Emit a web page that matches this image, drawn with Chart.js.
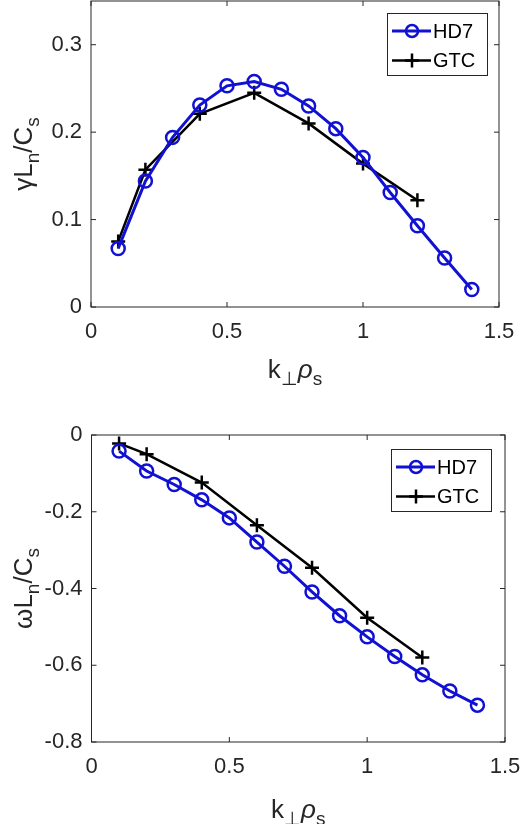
<!DOCTYPE html>
<html>
<head>
<meta charset="utf-8">
<script src="https://cdn.jsdelivr.net/npm/chart.js@4.4.0/dist/chart.umd.min.js"></script>
<style>
html,body{margin:0;padding:0;background:#fff;overflow:hidden;}
.box{position:absolute;left:0;width:520px;}
</style>
</head>
<body>
<div class="box" style="top:-20px;height:430px;"><canvas id="c1"></canvas></div>
<div class="box" style="top:410px;height:414px;"><canvas id="c2"></canvas></div>
<script>
// ---- data ----
const kHD7 = [0.1, 0.2, 0.3, 0.4, 0.5, 0.6, 0.7, 0.8, 0.9, 1.0, 1.1, 1.2, 1.3, 1.4];
const gammaHD7 = [0.067, 0.144, 0.194, 0.231, 0.253, 0.258, 0.249, 0.230, 0.204, 0.171, 0.131, 0.093, 0.056, 0.020];
const omegaHD7 = [-0.042, -0.094, -0.129, -0.169, -0.216, -0.279, -0.342, -0.409, -0.471, -0.526, -0.577, -0.625, -0.667, -0.704];
const kGTC = [0.1, 0.2, 0.4, 0.6, 0.8, 1.0, 1.2];
const gammaGTC = [0.075, 0.157, 0.221, 0.245, 0.210, 0.164, 0.122];
const omegaGTC = [-0.022, -0.050, -0.124, -0.235, -0.346, -0.476, -0.580];
const seriesLabels = ['HD7', 'GTC'];
const xTicks = [0, 0.5, 1, 1.5];
const gammaTicks = [0, 0.1, 0.2, 0.3];
const omegaTicks = [-0.8, -0.6, -0.4, -0.2, 0];

const FONT = '"Liberation Sans", Arial, Helvetica, sans-serif';
const AXC = '#262626';
const BLUE = '#1111d4';

function pts(xs, ys){ return xs.map((x,i)=>({x:x, y:ys[i]})); }
function fmt(v){ return String(Math.round(v*1000)/1000); }

function drawRich(ctx, parts, x, y){
  let cx = x;
  for (const p of parts){
    const size = p[1] ? 19 : 26;
    ctx.font = (p[2] ? 'italic ' : '') + size + 'px ' + FONT;
    ctx.fillText(p[0], cx, y + (p[1] ? 7 : 0));
    cx += ctx.measureText(p[0]).width;
  }
}
function richWidth(ctx, parts){
  let w = 0;
  for (const p of parts){
    const size = p[1] ? 19 : 26;
    ctx.font = (p[2] ? 'italic ' : '') + size + 'px ' + FONT;
    w += ctx.measureText(p[0]).width;
  }
  return w;
}

const matlabAxes = {
  id: 'matlabAxes',
  beforeDatasetsDraw(chart){
    const ctx = chart.ctx, a = chart.chartArea;
    const xs = chart.scales.x, ys = chart.scales.y;
    ctx.save();
    ctx.strokeStyle = AXC; ctx.lineWidth = 1;
    ctx.strokeRect(a.left, a.top, a.right - a.left, a.bottom - a.top);
    ctx.beginPath();
    xs.ticks.forEach(t=>{
      const p = xs.getPixelForValue(t.value);
      ctx.moveTo(p, a.bottom); ctx.lineTo(p, a.bottom - 5);
      ctx.moveTo(p, a.top); ctx.lineTo(p, a.top + 5);
    });
    ys.ticks.forEach(t=>{
      const p = ys.getPixelForValue(t.value);
      ctx.moveTo(a.left, p); ctx.lineTo(a.left + 5, p);
      ctx.moveTo(a.right, p); ctx.lineTo(a.right - 5, p);
    });
    ctx.stroke();
    ctx.restore();
  },
  afterDraw(chart, args, opts){
    const ctx = chart.ctx, a = chart.chartArea;
    ctx.save();
    ctx.fillStyle = AXC;
    ctx.textBaseline = 'alphabetic';
    ctx.textAlign = 'left';
    const xParts = [['k',false,false],['\u22A5',true,false],['\u03C1',false,true],['s',true,false]];
    const xw = richWidth(ctx, xParts);
    drawRich(ctx, xParts, (a.left + a.right)/2 - xw/2, a.bottom + opts.xTitleOffset);
    const yParts = opts.yParts;
    const yw = richWidth(ctx, yParts);
    ctx.save();
    ctx.translate(opts.yTitleX, (a.top + a.bottom)/2);
    ctx.rotate(-Math.PI/2);
    drawRich(ctx, yParts, -yw/2, 0);
    ctx.restore();
    // legend
    const L = a.right - opts.legRight - 100, T = a.top + opts.legTop;
    ctx.fillStyle = '#fff';
    ctx.fillRect(L, T, 100, 62);
    ctx.strokeStyle = AXC; ctx.lineWidth = 1;
    ctx.strokeRect(L + 0.5, T + 0.5, 100, 62);
    chart.data.datasets.forEach((ds, i)=>{
      const yy = T + 18 + i * 29.5;
      ctx.strokeStyle = ds.borderColor; ctx.lineWidth = ds.borderWidth;
      ctx.beginPath(); ctx.moveTo(L + 5, yy); ctx.lineTo(L + 44, yy); ctx.stroke();
      ctx.lineWidth = ds.pointBorderWidth;
      ctx.beginPath();
      if (ds.pointStyle === 'circle'){
        ctx.arc(L + 25, yy, 6, 0, Math.PI*2);
      } else {
        ctx.moveTo(L + 25 - 7, yy); ctx.lineTo(L + 25 + 7, yy);
        ctx.moveTo(L + 25, yy - 7); ctx.lineTo(L + 25, yy + 7);
      }
      ctx.stroke();
      ctx.fillStyle = '#000';
      ctx.font = '20px ' + FONT;
      ctx.textBaseline = 'middle';
      ctx.fillText(ds.label, L + 46, yy + 1);
    });
    ctx.restore();
  }
};

function makeChart(id, yHD, yGTC, yMin, yMax, yTickVals, cfg){
  return new Chart(document.getElementById(id), {
    type: 'line',
    data: {
      datasets: [
        { label: seriesLabels[0], data: pts(kHD7, yHD), borderColor: BLUE, borderWidth: 3,
          pointStyle: 'circle', pointRadius: 6.5, pointBorderWidth: 2.5, pointBorderColor: BLUE,
          pointBackgroundColor: 'rgba(0,0,0,0)', fill: false, tension: 0 },
        { label: seriesLabels[1], data: pts(kGTC, yGTC), borderColor: '#000', borderWidth: 2.5,
          pointStyle: 'cross', pointRadius: 7, pointBorderWidth: 2.5, pointBorderColor: '#000',
          fill: false, tension: 0 }
      ]
    },
    options: {
      responsive: true, maintainAspectRatio: false, animation: false,
      layout: { padding: { top: cfg.top, right: cfg.right, left: 0, bottom: 0 } },
      plugins: { legend: { display: false }, tooltip: { enabled: false },
        matlabAxes: cfg.plug },
      scales: {
        x: { type: 'linear', min: 0, max: 1.5,
          afterBuildTicks: s => { s.ticks = xTicks.map(v=>({value:v})); },
          afterFit: s => { s.height = cfg.xh; s.paddingLeft = 0; s.paddingRight = 0; },
          grid: { display: false, drawTicks: false }, border: { display: false },
          ticks: { color: AXC, font: { family: FONT, size: 22 }, padding: cfg.xpad, maxRotation: 0,
            callback: v => fmt(v) } },
        y: { type: 'linear', min: yMin, max: yMax,
          afterBuildTicks: s => { s.ticks = yTickVals.map(v=>({value:v})); },
          afterFit: s => { s.width = cfg.yw; s.paddingTop = 0; s.paddingBottom = 0; },
          grid: { display: false, drawTicks: false }, border: { display: false },
          ticks: { color: AXC, font: { family: FONT, size: 22 }, padding: 9,
            callback: v => fmt(v) } }
      }
    },
    plugins: [matlabAxes]
  });
}

makeChart('c1', gammaHD7, gammaGTC, 0, 0.35, gammaTicks, {
  top: 21, right: 21, xh: 103, yw: 91, xpad: 12,
  plug: { xTitleOffset: 71, yTitleX: 32, legRight: 12, legTop: 12,
    yParts: [['\u03B3L',false,false],['n',true,false],['/C',false,false],['s',true,false]] }
});
makeChart('c2', omegaHD7, omegaGTC, -0.8, 0, omegaTicks, {
  top: 25, right: 15, xh: 82, yw: 91.5, xpad: 12,
  plug: { xTitleOffset: 76, yTitleX: 32, legRight: 14, legTop: 14,
    yParts: [['\u03C9L',false,false],['n',true,false],['/C',false,false],['s',true,false]] }
});
</script>
</body>
</html>
